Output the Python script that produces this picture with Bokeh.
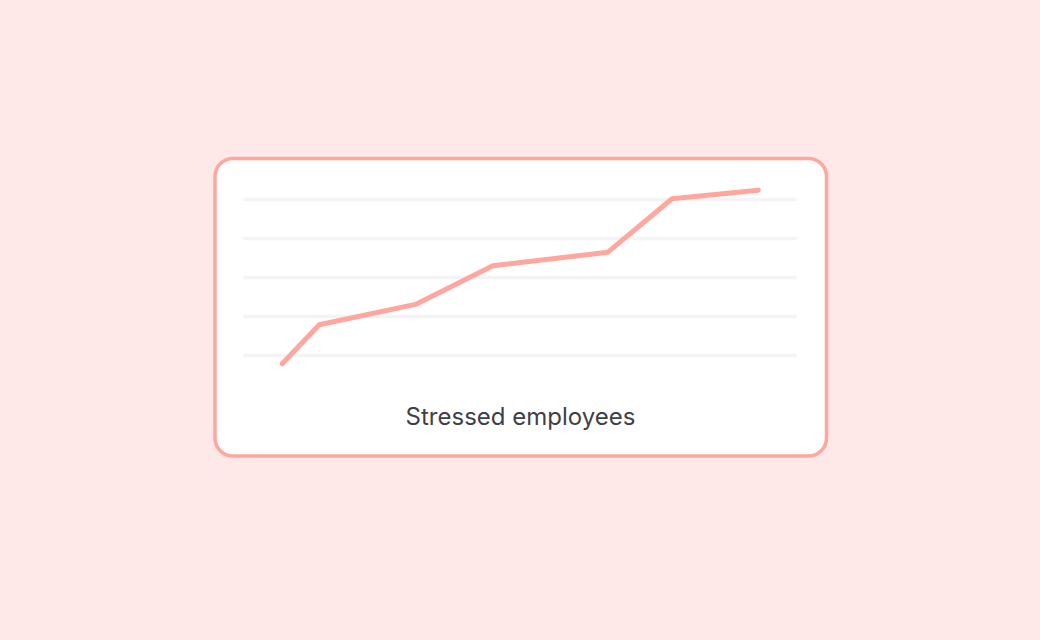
from bokeh.plotting import figure
from bokeh.models import BoxAnnotation, Label, Range1d
from bokeh.embed import file_html
from bokeh.resources import INLINE

# ---- data ----
x_vals = [7.0, 13.7, 31.1, 45.1, 65.9, 77.5, 93.1]
y_vals = [7.9, 17.9, 23.1, 33.0, 36.5, 50.2, 52.4]
grid_levels = [10, 20, 30, 40, 50]
title_text = "Stressed employees"

# ---- layout ----
W, H = 1024, 624
CANVAS_OFFSET = 0  # figure's top-left as seen in the screenshot
# pixel scale: x data 0..100 spans screen px 243..796; y 10 per 39 px, y=10 at screen 355
X0_PAGE, X_PX = 243.0, 5.53
Y10_PAGE, Y_PX = 355.0, 3.9

def dx(page_x):
    return (page_x - X0_PAGE) / X_PX

def dy(page_y):
    return 10 + (Y10_PAGE - page_y) / Y_PX

x_start = dx(CANVAS_OFFSET)
x_end = dx(CANVAS_OFFSET + W)
y_start = dy(CANVAS_OFFSET + H)
y_end = dy(CANVAS_OFFSET)

BG = "#FFE8E8"
ACCENT = "#FFA69E"

p = figure(width=W, height=H, output_backend="svg", toolbar_location=None,
           x_range=Range1d(x_start, x_end), y_range=Range1d(y_start, y_end),
           min_border=0, background_fill_color=BG, border_fill_color=BG)
p.axis.visible = False
p.grid.visible = False
p.outline_line_color = None

card = BoxAnnotation(left=dx(214.5), right=dx(826.0), top=dy(158.0), bottom=dy(455.5),
                     fill_color="white", fill_alpha=1.0,
                     line_color=ACCENT, line_width=3.5, line_alpha=1.0,
                     border_radius=18, level="underlay")
p.add_layout(card)

p.segment(x0=[0] * len(grid_levels), x1=[100] * len(grid_levels),
          y0=grid_levels, y1=grid_levels,
          line_color="#F4F4F7", line_width=3.5)

p.line(x_vals, y_vals, line_color=ACCENT, line_width=5,
       line_cap="round", line_join="round")

lbl = Label(x=dx(520.0), y=dy(416.0), text=title_text,
            text_align="center", text_baseline="middle",
            text_font="Inter", text_font_size="24px", text_color="#3F3F48")
p.add_layout(lbl)

html = file_html(p, INLINE)
html = html.replace("</head>", "<style>html,body{background:%s;}</style></head>" % BG, 1)
open("out.html", "w").write(html)
